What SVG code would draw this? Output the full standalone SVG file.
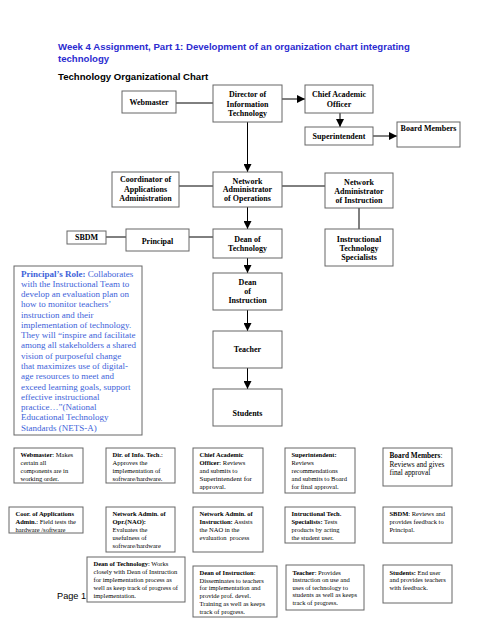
<svg xmlns="http://www.w3.org/2000/svg" width="495" height="640" viewBox="0 0 495 640">
<defs>
<style>
.box{fill:#fff;stroke:#666;stroke-width:1}
.t{font-family:"Liberation Serif",serif;font-size:8px;font-weight:bold;text-anchor:middle;fill:#000}
.s{font-family:"Liberation Serif",serif;font-size:6.5px;fill:#000}
.b{font-weight:bold}
.conn line{stroke:#000;stroke-width:1}
.arr{marker-end:url(#ah)}
.title{font-family:"Liberation Sans",Arial,sans-serif;font-size:9.6px;font-weight:bold}
.role{font-family:"Liberation Serif",serif;font-size:9px;fill:#3d5fd9}
</style>
<marker id="ah" markerUnits="userSpaceOnUse" markerWidth="8" markerHeight="8" refX="8" refY="4" orient="auto">
<path d="M0,0 L8,4 L0,8 z" fill="#000"/>
</marker>
</defs>
<rect width="495" height="640" fill="#fff"/>

<g id="titles">
<text class="title" x="58" y="49.5" fill="#2b2bd0">Week 4 Assignment, Part 1: Development of an organization chart integrating</text>
<text class="title" x="58" y="61.8" fill="#2b2bd0">technology</text>
<text class="title" x="58" y="80" fill="#000">Technology Organizational Chart</text>
</g>

<g class="conn" id="connectors">
<line x1="176" y1="103" x2="213" y2="103"/>
<line class="arr" x1="282" y1="99" x2="305" y2="99"/>
<line class="arr" x1="340" y1="113" x2="340" y2="127"/>
<line class="arr" x1="373" y1="136" x2="397" y2="136"/>
<line class="arr" x1="247.5" y1="122" x2="247.5" y2="172"/>
<line x1="179" y1="186" x2="213" y2="186"/>
<line x1="282" y1="186" x2="325" y2="186"/>
<line class="arr" x1="247.5" y1="207" x2="247.5" y2="229"/>
<line x1="106" y1="237" x2="126" y2="237"/>
<line x1="189" y1="237" x2="213" y2="237"/>
<line x1="359" y1="208" x2="359" y2="229"/>
<line class="arr" x1="247.5" y1="258" x2="247.5" y2="273"/>
<line class="arr" x1="247.5" y1="310" x2="247.5" y2="331"/>
<line class="arr" x1="247.5" y1="368" x2="247.5" y2="389"/>
</g>

<g id="webmaster"><rect class="box" x="122" y="91" width="54" height="22"/><text class="t" x="149" y="105">Webmaster</text></g>
<g id="director"><rect class="box" x="213" y="85" width="69" height="37"/><text class="t" x="247.5" y="97">Director of</text><text class="t" x="247.5" y="106.5">Information</text><text class="t" x="247.5" y="116">Technology</text></g>
<g id="cao"><rect class="box" x="305" y="85" width="68" height="28"/><text class="t" x="339" y="97">Chief Academic</text><text class="t" x="339" y="106.5">Officer</text></g>
<g id="superintendent"><rect class="box" x="305" y="127" width="68" height="18"/><text class="t" x="339" y="138.8">Superintendent</text></g>
<g id="board"><rect class="box" x="397" y="122" width="63" height="25"/><text class="t" x="428.5" y="131">Board Members</text></g>
<g id="coordinator"><rect class="box" x="112" y="172" width="67" height="35"/><text class="t" x="145.5" y="182">Coordinator of</text><text class="t" x="145.5" y="191.5">Applications</text><text class="t" x="145.5" y="200.5">Administration</text></g>
<g id="nao"><rect class="box" x="213" y="172" width="69" height="35"/><text class="t" x="247.5" y="183.5">Network</text><text class="t" x="247.5" y="192.3">Administrator</text><text class="t" x="247.5" y="201.2">of Operations</text></g>
<g id="nai"><rect class="box" x="325" y="173" width="68" height="35"/><text class="t" x="359" y="184.5">Network</text><text class="t" x="359" y="193.7">Administrator</text><text class="t" x="359" y="202.8">of Instruction</text></g>
<g id="sbdm"><rect class="box" x="67" y="231" width="39" height="13"/><text class="t" x="86.5" y="240.2">SBDM</text></g>
<g id="principal"><rect class="box" x="126" y="229" width="63" height="22"/><text class="t" x="157.5" y="243.5">Principal</text></g>
<g id="deantech"><rect class="box" x="213" y="229" width="69" height="29"/><text class="t" x="247.5" y="242">Dean of</text><text class="t" x="247.5" y="251">Technology</text></g>
<g id="its"><rect class="box" x="325" y="229" width="68" height="37"/><text class="t" x="359" y="241.8">Instructional</text><text class="t" x="359" y="251">Technology</text><text class="t" x="359" y="260">Specialists</text></g>
<g id="deaninst"><rect class="box" x="213" y="273" width="69" height="37"/><text class="t" x="247.5" y="284.5">Dean</text><text class="t" x="247.5" y="293.8">of</text><text class="t" x="247.5" y="302.8">Instruction</text></g>
<g id="teacher"><rect class="box" x="213" y="331" width="69" height="37"/><text class="t" x="247.5" y="352">Teacher</text></g>
<g id="students"><rect class="box" x="213" y="389" width="69" height="37"/><text class="t" x="247.5" y="416">Students</text></g>

<g id="principal-role">
<rect class="box" x="14" y="266" width="128" height="169"/>
<text class="role" x="21" y="276.5"><tspan class="b">Principal’s Role:</tspan> Collaborates</text>
<text class="role" x="21" y="286.8">with the Instructional Team to</text>
<text class="role" x="21" y="297">develop an evaluation plan on</text>
<text class="role" x="21" y="307.3">how to monitor teachers’</text>
<text class="role" x="21" y="317.6">instruction and their</text>
<text class="role" x="21" y="327.8">implementation of technology.</text>
<text class="role" x="21" y="338.1">They will “inspire and facilitate</text>
<text class="role" x="21" y="348.4">among all stakeholders a shared</text>
<text class="role" x="21" y="358.7">vision of purposeful change</text>
<text class="role" x="21" y="368.9">that maximizes use of digital-</text>
<text class="role" x="21" y="379.2">age resources to meet and</text>
<text class="role" x="21" y="389.5">exceed learning goals, support</text>
<text class="role" x="21" y="399.7">effective instructional</text>
<text class="role" x="21" y="410">practice…”(National</text>
<text class="role" x="21" y="420.3">Educational Technology</text>
<text class="role" x="21" y="430.5">Standards (NETS-A)</text>
</g>

<g id="d-webmaster"><rect class="box" x="14" y="448" width="69" height="35"/>
<text class="s" x="20.5" y="457"><tspan class="b">Webmaster</tspan>: Makes</text>
<text class="s" x="20.5" y="464.9">certain all</text>
<text class="s" x="20.5" y="472.8">components are in</text>
<text class="s" x="20.5" y="480.7">working order.</text></g>

<g id="d-director"><rect class="box" x="106" y="448" width="69" height="35"/>
<text class="s" x="112.5" y="457"><tspan class="b">Dir. of Info. Tech</tspan>.:</text>
<text class="s" x="112.5" y="464.9">Approves the</text>
<text class="s" x="112.5" y="472.8">implementation of</text>
<text class="s" x="112.5" y="480.7">software/hardware.</text></g>

<g id="d-cao"><rect class="box" x="193" y="448" width="70" height="45"/>
<text class="s b" x="199.5" y="457">Chief Academic</text>
<text class="s" x="199.5" y="464.9"><tspan class="b">Officer</tspan>: Reviews</text>
<text class="s" x="199.5" y="472.8">and submits to</text>
<text class="s" x="199.5" y="480.9" style="font-size:7px">Superintendent for</text>
<text class="s" x="199.5" y="489.2" style="font-size:7px">approval.</text></g>

<g id="d-superintendent"><rect class="box" x="285" y="448" width="70" height="45"/>
<text class="s b" x="291.5" y="457">Superintendent:</text>
<text class="s" x="291.5" y="464.9">Reviews</text>
<text class="s" x="291.5" y="472.8">recommendations</text>
<text class="s" x="291.5" y="480.7">and submits to Board</text>
<text class="s" x="291.5" y="488.6">for final approval.</text></g>

<g id="d-board"><rect class="box" x="383" y="448" width="69" height="38"/>
<text class="s" x="389.5" y="458" style="font-size:7.3px"><tspan class="b">Board Members</tspan>:</text>
<text class="s" x="389.5" y="466.7" style="font-size:7.3px">Reviews and gives</text>
<text class="s" x="389.5" y="475.4" style="font-size:7.3px">final approval</text></g>

<g id="d-coordinator"><rect class="box" x="9" y="507" width="74" height="26"/>
<text class="s b" x="15.5" y="516">Coor. of Applications</text>
<text class="s" x="15.5" y="523.9"><tspan class="b">Admin.</tspan>: Field tests the</text>
<text class="s" x="15.5" y="531.8">hardware /software</text></g>

<g id="d-nao"><rect class="box" x="106" y="507" width="69" height="45"/>
<text class="s b" x="112.5" y="516">Network Admin. of</text>
<text class="s b" x="112.5" y="523.9">Opr.(NAO):</text>
<text class="s" x="112.5" y="531.8">Evaluates the</text>
<text class="s" x="112.5" y="539.7">usefulness of</text>
<text class="s" x="112.5" y="547.6">software/hardware</text></g>

<g id="d-nai"><rect class="box" x="193" y="507" width="70" height="45"/>
<text class="s b" x="199.5" y="516">Network Admin. of</text>
<text class="s" x="199.5" y="523.9"><tspan class="b">Instruction:</tspan> Assists</text>
<text class="s" x="199.5" y="531.8">the NAO in the</text>
<text class="s" x="199.5" y="539.7" xml:space="preserve">evaluation  process</text></g>

<g id="d-its"><rect class="box" x="285" y="507" width="70" height="36"/>
<text class="s b" x="291.5" y="516">Intructional Tech.</text>
<text class="s" x="291.5" y="523.9"><tspan class="b">Specialists:</tspan> Tests</text>
<text class="s" x="291.5" y="531.8">products by acting</text>
<text class="s" x="291.5" y="539.7">the student user.</text></g>

<g id="d-sbdm"><rect class="box" x="383" y="507" width="69" height="36"/>
<text class="s" x="389.5" y="516"><tspan class="b">SBDM</tspan>: Reviews and</text>
<text class="s" x="389.5" y="523.9">provides feedback to</text>
<text class="s" x="389.5" y="531.8">Principal.</text></g>

<g id="page"><text x="57" y="598.5" style="font-family:'Liberation Sans',Arial,sans-serif;font-size:9.2px;fill:#000">Page 1</text></g>

<g id="d-deantech"><rect class="box" x="87" y="557" width="98" height="45"/>
<text class="s" x="93.5" y="566"><tspan class="b">Dean of Technology</tspan>: Works</text>
<text class="s" x="93.5" y="573.9">closely with Dean of Instruction</text>
<text class="s" x="93.5" y="581.8">for implementation process as</text>
<text class="s" x="93.5" y="589.7">well as keep track of progress of</text>
<text class="s" x="93.5" y="597.6">implementation.</text></g>

<g id="d-deaninst"><rect class="box" x="193" y="566" width="84" height="51"/>
<text class="s" x="199.5" y="575"><tspan class="b">Dean of Instruction</tspan>:</text>
<text class="s" x="199.5" y="582.7">Disseminates to teachers</text>
<text class="s" x="199.5" y="590.4">for implementation and</text>
<text class="s" x="199.5" y="598.1">provide prof. devel.</text>
<text class="s" x="199.5" y="605.8">Training as well as keeps</text>
<text class="s" x="199.5" y="613.5">track of progress.</text></g>

<g id="d-teacher"><rect class="box" x="286" y="565" width="78" height="45"/>
<text class="s" x="292.5" y="574.5"><tspan class="b">Teacher</tspan>: Provides</text>
<text class="s" x="292.5" y="582">instruction on use and</text>
<text class="s" x="292.5" y="589.5">uses of technology to</text>
<text class="s" x="292.5" y="597">students as well as keeps</text>
<text class="s" x="292.5" y="604.5">track of progress.</text></g>

<g id="d-students"><rect class="box" x="383" y="565" width="69" height="38"/>
<text class="s" x="389.5" y="574.5"><tspan class="b">Students:</tspan> End user</text>
<text class="s" x="389.5" y="582.2">and provides teachers</text>
<text class="s" x="389.5" y="589.9">with feedback.</text></g>
</svg>
